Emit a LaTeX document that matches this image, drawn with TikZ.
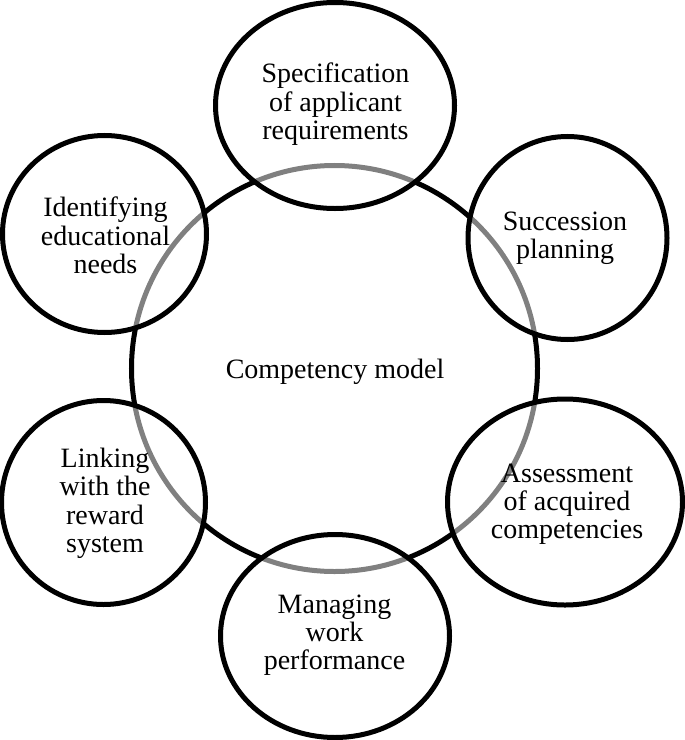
\documentclass[tikz,border=0pt]{standalone}
\usepackage{fontspec}
\setmainfont{Liberation Serif}
\usetikzlibrary{shapes.geometric}
\begin{document}
\begin{tikzpicture}[x=1bp,y=-1bp,
  ring/.style={ellipse, draw=black, line width=5bp, fill=white, fill opacity=0.5, draw opacity=1, inner sep=0pt, outer sep=0pt},
  core/.style={circle, draw=black, line width=5bp, inner sep=0pt, outer sep=0pt, minimum size=406bp},
  lbl/.style={font=\fontsize{28bp}{28.3bp}\selectfont, align=center, inner sep=0pt, outer sep=0pt, text=black}]
\useasboundingbox (0,0) rectangle (685,740);
% central circle
\node[core] (model) at (334.5,368.5) {};
% surrounding ellipses
\node[ring, minimum width=239bp, minimum height=206bp] (spec) at (335,105.5) {};
\node[ring, minimum width=199bp, minimum height=203bp] (succ) at (567.5,238) {};
\node[ring, minimum width=235bp, minimum height=206bp] (assess) at (565,502) {};
\node[ring, minimum width=229bp, minimum height=203bp] (manage) at (335,636) {};
\node[ring, minimum width=204bp, minimum height=204bp] (link) at (103.5,502.5) {};
\node[ring, minimum width=204bp, minimum height=197bp] (ident) at (104.5,234) {};
% labels
\node[lbl] (modeltext) at (335,372.4) {\strut Competency model};
\node[lbl] (spectext) at (335.5,105.4) {\strut Specification\\of applicant\\requirements\strut};
\node[lbl] (succtext) at (565,239) {\strut Succession\\planning\strut};
\node[lbl] (assesstext) at (567,504.9) {\strut Assessment\\of acquired\\competencies\strut};
\node[lbl] (managetext) at (334.5,636) {\strut Managing\\work\\performance\strut};
\node[lbl] (linktext) at (105,504.2) {\strut Linking\\with the\\reward\\system\strut};
\node[lbl] (identtext) at (105.5,239.4) {\strut Identifying\\educational\\needs\strut};
\end{tikzpicture}
\end{document}
